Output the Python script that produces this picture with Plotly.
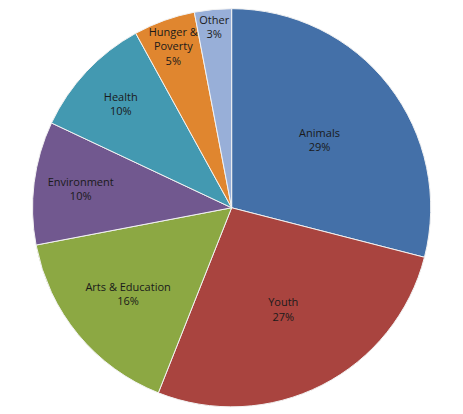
import plotly.graph_objects as go

# Volunteer cause shares (%), clockwise from 12 o'clock
causes = ["Animals", "Youth", "Arts & Education", "Environment", "Health", "Hunger &<br>Poverty", "Other"]
shares = [29, 27, 16, 10, 10, 5, 3]
colors = ["#4470A8", "#A9443F", "#8CA843", "#71588F", "#4399B1", "#E0862F", "#98AFD8"]

fig = go.Figure()
fig.add_pie(
    labels=causes,
    values=shares,
    sort=False,
    direction="clockwise",
    rotation=0,
    marker=dict(colors=colors, line=dict(color="#F2F2F2", width=1)),
    texttemplate="%{label}<br>%{value}%",
    textposition="inside",
    insidetextorientation="horizontal",
    textfont=dict(family="Open Sans", size=11, color="#1A1A1A"),
    domain=dict(x=[0.053, 0.913], y=[0.035, 1.0]),
    showlegend=False,
    hoverinfo="label+percent",
)

fig.update_layout(
    width=463,
    height=414,
    margin=dict(l=0, r=0, t=0, b=0),
    paper_bgcolor="white",
    plot_bgcolor="white",
    uniformtext=dict(minsize=10, mode="show"),
)

fig.write_html("out.html")
